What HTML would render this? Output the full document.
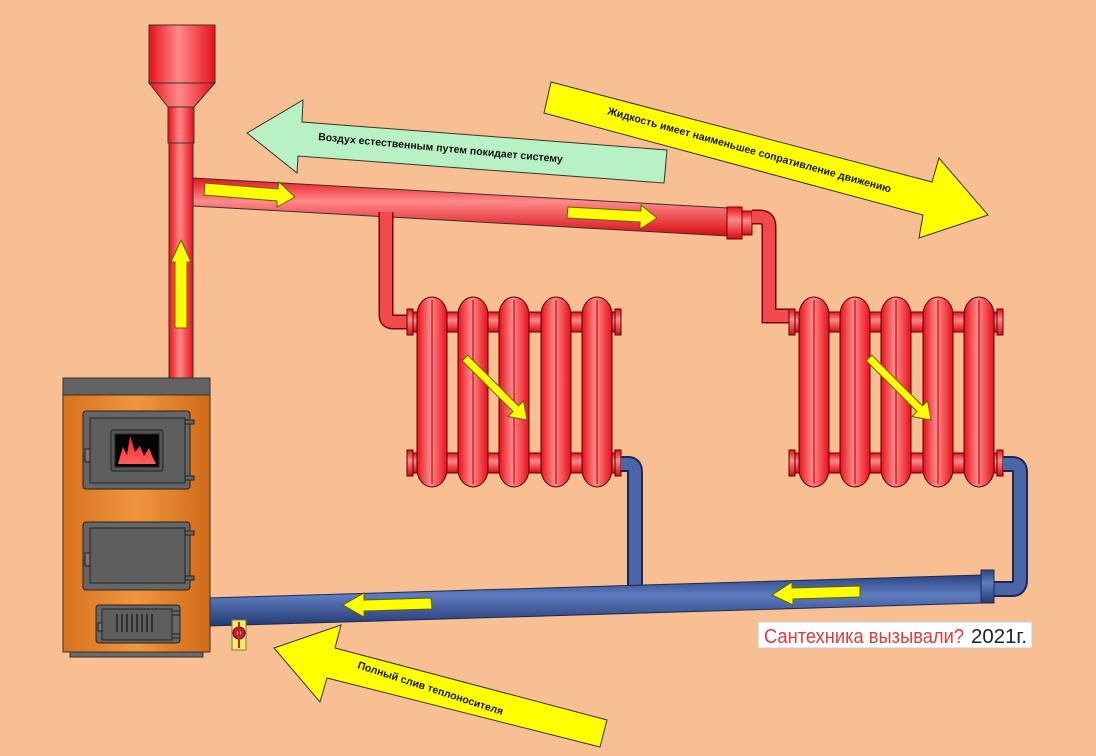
<!DOCTYPE html>
<html><head><meta charset="utf-8"><style>
html,body{margin:0;padding:0;background:#f8bf93;}
svg{display:block}
text{font-family:"Liberation Sans","DejaVu Sans",sans-serif;font-weight:bold;fill:#111}
</style></head><body>
<svg width="1096" height="756" viewBox="0 0 1096 756" xmlns="http://www.w3.org/2000/svg">
<defs>
<linearGradient id="rh" x1="0" y1="0" x2="1" y2="0"><stop offset="0" stop-color="#e8101a"/><stop offset="0.45" stop-color="#ff8a8a"/><stop offset="1" stop-color="#e8101a"/></linearGradient>
<linearGradient id="rv" x1="0" y1="0" x2="0" y2="1"><stop offset="0" stop-color="#e8101a"/><stop offset="0.4" stop-color="#ff8a8a"/><stop offset="1" stop-color="#d80c14"/></linearGradient>
<linearGradient id="bv" x1="0" y1="0" x2="0" y2="1"><stop offset="0" stop-color="#2c4580"/><stop offset="0.4" stop-color="#5e7cc0"/><stop offset="1" stop-color="#243a70"/></linearGradient>
<linearGradient id="org" x1="0" y1="0" x2="1" y2="0"><stop offset="0" stop-color="#d8721e"/><stop offset="0.5" stop-color="#f0963e"/><stop offset="1" stop-color="#d26a18"/></linearGradient>
<linearGradient id="fire" x1="0" y1="0" x2="0" y2="1"><stop offset="0" stop-color="#ff2020"/><stop offset="1" stop-color="#ff6060"/></linearGradient>
<g id="rad">
  <rect x="-10" y="15" width="214" height="20" fill="url(#rv)" stroke="#5a0000" stroke-width="1"/>
  <rect x="-10" y="156" width="214" height="20" fill="url(#rv)" stroke="#5a0000" stroke-width="1"/>
  <rect x="-10" y="12" width="6" height="26" fill="url(#rv)" stroke="#5a0000" stroke-width="1"/>
  <rect x="198" y="12" width="6" height="26" fill="url(#rv)" stroke="#5a0000" stroke-width="1"/>
  <rect x="-10" y="153" width="6" height="26" fill="url(#rv)" stroke="#5a0000" stroke-width="1"/>
  <rect x="198" y="153" width="6" height="26" fill="url(#rv)" stroke="#5a0000" stroke-width="1"/>
  <g stroke="#5a0000" stroke-width="1" fill="url(#rh)">
    <rect x="0" y="0" width="30" height="190" rx="15" ry="18"/>
    <rect x="41" y="0" width="30" height="190" rx="15" ry="18"/>
    <rect x="82" y="0" width="30" height="190" rx="15" ry="18"/>
    <rect x="124" y="0" width="30" height="190" rx="15" ry="18"/>
    <rect x="165" y="0" width="30" height="190" rx="15" ry="18"/>
  </g>
  <g stroke="#a00008" stroke-width="1">
    <line x1="15" y1="3" x2="15" y2="187"/><line x1="56" y1="3" x2="56" y2="187"/><line x1="97" y1="3" x2="97" y2="187"/><line x1="139" y1="3" x2="139" y2="187"/><line x1="180" y1="3" x2="180" y2="187"/>
  </g>
</g>
</defs>

<rect x="149" y="25" width="66" height="58" fill="url(#rh)" stroke="#333"/>
<polygon points="149,83 215,83 194,107 168,107" fill="url(#rh)" stroke="#333"/>
<rect x="168" y="107" width="26" height="36" fill="url(#rh)" stroke="#333"/>
<rect x="169" y="143" width="24" height="237" fill="url(#rh)" stroke="#333"/>

<polygon points="193,178 728,208 728,236 193,206" fill="url(#rv)" stroke="#333"/>
<rect x="727" y="207" width="15" height="32" fill="url(#rv)" stroke="#7a0000"/>
<rect x="742" y="211" width="10" height="24" fill="url(#rv)" stroke="#7a0000"/>
<path d="M752,217 H760 Q769,217 769,227 V316 H790" fill="none" stroke="#7a0000" stroke-width="15"/>
<path d="M752,217 H760 Q769,217 769,227 V316 H790" fill="none" stroke="#f24a4a" stroke-width="12"/>
<path d="M386,212 V315 Q386,322 393,322 H408" fill="none" stroke="#7a0000" stroke-width="15"/>
<path d="M386,212 V315 Q386,322 393,322 H408" fill="none" stroke="#f24a4a" stroke-width="12"/>

<use href="#rad" x="417" y="297"/>
<use href="#rad" x="799" y="297"/>

<path d="M621,464 H628 Q635,464 635,472 V590" fill="none" stroke="#1a2a55" stroke-width="16"/>
<path d="M621,464 H628 Q635,464 635,472 V590" fill="none" stroke="#4a66a8" stroke-width="12"/>
<path d="M1003,464 H1012 Q1020,464 1020,472 V580 Q1020,589 1012,589 H994" fill="none" stroke="#1a2a55" stroke-width="16"/>
<path d="M1003,464 H1012 Q1020,464 1020,472 V580 Q1020,589 1012,589 H994" fill="none" stroke="#4a66a8" stroke-width="12"/>
<polygon points="208,598 982,575 982,603 208,626" fill="url(#bv)" stroke="#1a2a55"/>
<rect x="981" y="570" width="13" height="33" fill="url(#bv)" stroke="#1a2a55"/>

<rect x="70" y="650" width="133" height="7" fill="#6a6a6a" stroke="#333"/>
<rect x="63" y="378" width="147" height="274" fill="url(#org)" stroke="#333"/>
<rect x="63" y="378" width="147" height="17" fill="#636363" stroke="#333"/>
<g stroke="#222" stroke-width="1">
<rect x="83" y="411" width="107" height="78" rx="3" fill="#666"/>
<rect x="90" y="418" width="95" height="65" fill="#5e5e5e"/>
<rect x="111" y="430" width="52" height="41" rx="2" fill="#555"/>
<rect x="115" y="434" width="44" height="33" fill="#050505"/>
<rect x="83" y="522" width="107" height="68" rx="3" fill="#666"/>
<rect x="90" y="528" width="95" height="55" fill="#5e5e5e"/>
<rect x="96" y="605" width="84" height="38" rx="3" fill="#666"/>
<rect x="102" y="609" width="70" height="31" fill="#5e5e5e"/>
<rect x="185" y="420" width="9" height="4" fill="#666"/><rect x="185" y="476" width="9" height="4" fill="#666"/>
<rect x="185" y="531" width="9" height="4" fill="#666"/><rect x="185" y="576" width="9" height="4" fill="#666"/>
<rect x="172" y="611" width="8" height="4" fill="#666"/><rect x="172" y="634" width="8" height="4" fill="#666"/>
<rect x="85" y="449" width="5" height="13" fill="#777"/><rect x="85" y="553" width="5" height="13" fill="#777"/><rect x="98" y="623" width="4" height="8" fill="#777"/>
</g>
<polygon points="118,464 123,447 127,455 130,436 135,452 140,446 144,456 149,448 153,458 156,464" fill="url(#fire)"/>
<g stroke="#222" stroke-width="1.5"><line x1="117" y1="614" x2="117" y2="632"/><line x1="122" y1="614" x2="122" y2="632"/><line x1="127" y1="614" x2="127" y2="632"/><line x1="132" y1="614" x2="132" y2="632"/><line x1="137" y1="614" x2="137" y2="632"/><line x1="142" y1="614" x2="142" y2="632"/><line x1="147" y1="614" x2="147" y2="632"/><line x1="152" y1="614" x2="152" y2="632"/></g>

<rect x="232" y="620" width="14" height="30" fill="#f5f060" stroke="#776"/>
<circle cx="239" cy="633" r="6" fill="#c82020" stroke="#600"/>
<circle cx="239" cy="633" r="2" fill="#f8c0c0"/>
<line x1="239" y1="622" x2="239" y2="648" stroke="#c82020" stroke-width="2"/>

<g fill="#ffff00" stroke="#6a5a00" stroke-width="1">
<polygon points="175,328 175,262 171,262 181,240 191,262 187,262 187,328"/>
<polygon points="205,183 278,189 279,182 295,197 277,207 277,201 204,195"/>
<polygon points="568,207 641,211 641,205 657,218 640,229 640,222 567,218"/>
<polygon points="431,598 364,600 364,593 343,605 364,617 364,611 432,609"/>
<polygon points="860,586 792,588 792,582 772,595 793,605 793,599 860,597"/>
<polygon points="462.2,360.8 512.9,411.5 507.9,416.5 527,420 523.5,400.9 518.5,405.9 467.8,355.2"/>
<polygon points="866.2,360.8 916.9,411.5 911.9,416.5 931,420 927.5,400.9 922.5,405.9 871.8,355.2"/>
</g>

<polygon points="247,133 303,100 302,122 667,150 664,183 298,156 297,173" fill="#b8f2c4" stroke="#333" stroke-width="1"/>
<text x="318" y="140" font-size="10.5" transform="rotate(5.3 318 140)">Воздух естественным путем покидает систему</text>
<polygon points="551,82 932,182 939,158 988,215 919,238 923,215 544,113" fill="#ffff00" stroke="#333" stroke-width="1"/>
<text x="607" y="114" font-size="10.5" transform="rotate(15.5 607 114)">Жидкость имеет наименьшее сопративление движению</text>
<polygon points="274,648 341,625 335,648 607,720 600,747 327,678 320,702" fill="#ffff00" stroke="#333" stroke-width="1"/>
<text x="357" y="668" font-size="10.5" transform="rotate(18 357 668)">Полный слив теплоносителя</text>

<rect x="758" y="622" width="274" height="26" fill="#fff" stroke="#ccc"/>
<text x="764" y="643" font-size="20" style="font-weight:normal;fill:#e03a3a" textLength="200" lengthAdjust="spacingAndGlyphs">Сантехника вызывали?</text>
<text x="971" y="643" font-size="20" style="font-weight:normal;fill:#222" textLength="56" lengthAdjust="spacingAndGlyphs">2021г.</text>
</svg>
</body></html>
